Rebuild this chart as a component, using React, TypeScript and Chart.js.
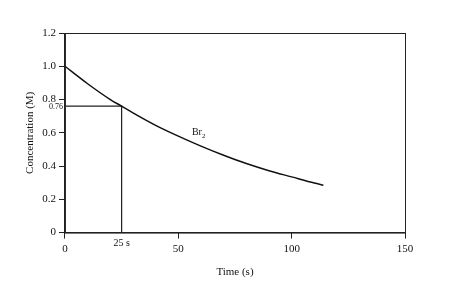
import React, { useEffect, useRef } from "react";
import { Chart, registerables } from "chart.js";

Chart.register(...registerables);

const timeValues = [0, 10, 20, 25, 30, 40, 50, 60, 70, 80, 90, 100, 110, 114];
const concValues = [1.0, 0.895, 0.8, 0.76, 0.72, 0.645, 0.58, 0.52, 0.465, 0.415, 0.372, 0.335, 0.298, 0.285];
const markerTime = 25;
const markerConc = 0.76;
const xTicks = [0, 50, 100, 150];
const yTickLabels = ["0", "0.2", "0.4", "0.6", "0.8", "1.0", "1.2"];
const seriesLabel = "Br";
const seriesSub = "2";

const FONT = "'Liberation Serif', 'Times New Roman', serif";

export default function App() {
  const ref = useRef<HTMLCanvasElement>(null);
  useEffect(() => {
    document.body.style.margin = "0";
    const canvas = ref.current!;
    const annot = {
      id: "annot",
      afterDraw(chart: any) {
        const { ctx, chartArea, scales } = chart;
        const xs = scales.x, ys = scales.y;
        ctx.save();
        ctx.strokeStyle = "#222";
        ctx.lineWidth = 1;
        ctx.strokeRect(chartArea.left + 0.5, chartArea.top + 0.5, chartArea.right - chartArea.left, chartArea.bottom - chartArea.top);
        ctx.fillStyle = "#111";
        ctx.font = `10px ${FONT}`;
        ctx.textAlign = "center";
        ctx.textBaseline = "middle";
        ctx.fillText(`${markerTime} s`, xs.getPixelForValue(markerTime), ys.getPixelForValue(0) + 11);
        ctx.font = `8px ${FONT}`;
        ctx.textAlign = "right";
        ctx.fillText(String(markerConc), xs.getPixelForValue(0) - 2, ys.getPixelForValue(markerConc) + 1);
        const lx = xs.getPixelForValue(56);
        const ly = ys.getPixelForValue(0.6);
        ctx.font = `10px ${FONT}`;
        ctx.textAlign = "left";
        ctx.fillText(seriesLabel, lx, ly);
        const w = ctx.measureText(seriesLabel).width;
        ctx.font = `7px ${FONT}`;
        ctx.fillText(seriesSub, lx + w, ly + 3);
        ctx.restore();
      },
    };
    const chart = new Chart(canvas, {
      type: "scatter",
      data: {
        datasets: [
          {
            data: timeValues.map((t, i) => ({ x: t, y: concValues[i] })),
            showLine: true,
            borderColor: "#111",
            borderWidth: 1.5,
            pointRadius: 0,
            cubicInterpolationMode: "monotone",
          },
          {
            data: [
              { x: 0, y: markerConc },
              { x: markerTime, y: markerConc },
              { x: markerTime, y: 0 },
            ],
            showLine: true,
            borderColor: "#222",
            borderWidth: 1.2,
            pointRadius: 0,
            tension: 0,
          },
        ],
      },
      options: {
        responsive: false,
        animation: false,
        layout: { padding: { left: 20, right: 45, top: 33, bottom: 10 } },
        plugins: { legend: { display: false }, tooltip: { enabled: false } },
        scales: {
          x: {
            type: "linear",
            min: 0,
            max: 150,
            afterBuildTicks: (s: any) => {
              s.ticks = xTicks.map((v) => ({ value: v }));
            },
            ticks: { color: "#111", font: { family: FONT, size: 11 }, padding: 4 },
            grid: { drawOnChartArea: false, drawTicks: true, tickLength: 6, color: "#222" },
            border: { color: "#222", width: 1 },
            title: { display: true, text: "Time (s)", color: "#111", font: { family: FONT, size: 11 }, padding: { top: 6 } },
          },
          y: {
            min: 0,
            max: 1.2,
            ticks: {
              stepSize: 0.2,
              color: "#111",
              font: { family: FONT, size: 11 },
              padding: 3,
              callback: (_v: any, i: number) => yTickLabels[i],
            },
            grid: { drawOnChartArea: false, drawTicks: true, tickLength: 6, color: "#222" },
            border: { color: "#222", width: 1 },
            title: { display: true, text: "Concentration (M)", color: "#111", font: { family: FONT, size: 11 }, padding: { bottom: 2 } },
          },
        },
      },
      plugins: [annot],
    });
    return () => chart.destroy();
  }, []);
  return <canvas ref={ref} width={450} height={293} style={{ display: "block" }} />;
}
